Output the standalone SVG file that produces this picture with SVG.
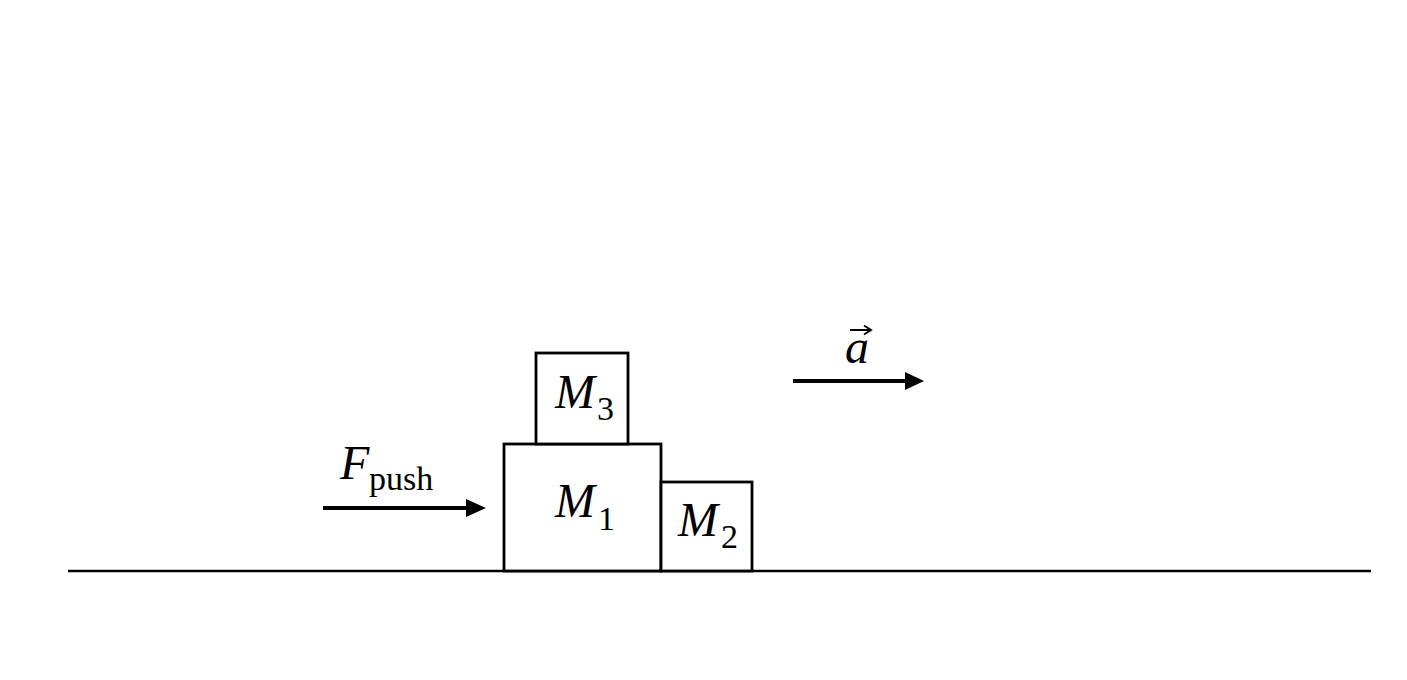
<svg xmlns="http://www.w3.org/2000/svg" width="1407" height="680" viewBox="0 0 1407 680">
<style>
.box{fill:#fff;stroke:#000;stroke-width:2.8}
.m{font-family:"Liberation Serif","Times New Roman",serif;font-style:italic;font-size:48px;fill:#000}
.s{font-family:"Liberation Serif","Times New Roman",serif;font-style:normal;font-size:34px;fill:#000}
.ln{stroke:#000;stroke-width:4;fill:none}
.hd{fill:#000;stroke:none}
</style>
<rect width="1407" height="680" fill="#fff"/>
<line id="ground" x1="68" y1="571" x2="1371" y2="571" stroke="#000" stroke-width="2.6"/>
<g id="M1">
<rect class="box" x="504" y="444" width="157" height="127"/>
<text class="m" x="555" y="517">M</text><text class="s" x="598" y="530">1</text>
</g>
<g id="M2">
<rect class="box" x="661" y="482" width="91" height="89"/>
<text class="m" x="678" y="536">M</text><text class="s" x="721" y="548">2</text>
</g>
<g id="M3">
<rect class="box" x="536" y="353" width="92" height="91"/>
<text class="m" x="555" y="408">M</text><text class="s" x="597" y="420">3</text>
</g>
<g id="arrows">
<line class="ln" x1="323" y1="508" x2="470" y2="508"/>
<polygon class="hd" points="466,499 486,508 466,517"/>
<line class="ln" x1="793" y1="381" x2="908" y2="381"/>
<polygon class="hd" points="905,372 924,381 905,390"/>
</g>
<g id="labels">
<text class="m" x="340" y="479">F</text><text class="s" x="369" y="490">push</text>
<text class="m" x="845" y="363">a</text>
<path d="M850,330 H870 M864,325.5 L871,330 L864,334.5" stroke="#000" stroke-width="2" fill="none"/>
</g>
</svg>
